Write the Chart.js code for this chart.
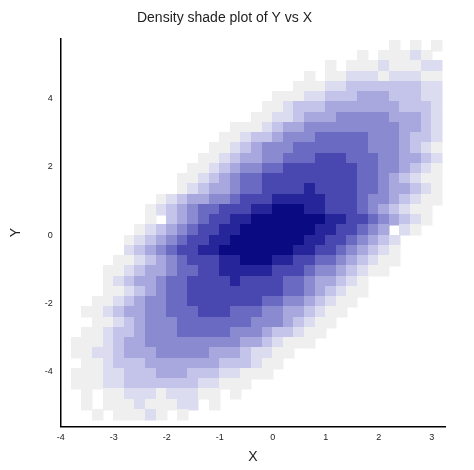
<!DOCTYPE html>
<html><head><meta charset="utf-8">
<script src="https://cdn.jsdelivr.net/npm/chart.js@4"></script>
<style>html,body{margin:0;background:#fff}#w{width:474px;height:470px}</style>
</head><body><div id="w"><canvas id="c"></canvas></div>
<script>
// 2D histogram: cell size and grid origin
const cellW = 0.2, cellH = 0.3, gridX0 = -4, gridYTop = 5.7;
// per row (top to bottom): first column index and density level string (0-9, '.' = empty)
const rowStart = [20,19,18,17,17,16,15,15,14,13,12,12,11,10,10,9,8,8,7,6,5,5,4,3,3,2,1,1,0,-1,-2,-2,-3,-4,-4,-5,-6];
const rowLevels = [
"...........1.1.1...........",
".........1.11121.1.........",
".......1.111211122.1.......",
"......1.11222122211.1......",
".....11122333333322111.....",
"....1112233344433322111....",
"....1123334444444333211....",
"...112234445555544432211...",
"..11123445555555554432111..",
"..11233455566666555433211..",
"..11234555666666655543211..",
".1123445566677766655443211.",
".1123455667777777665543211.",
".1123456677777777766543211.",
".1234456677778777766544321.",
"123445567778888877765543211",
"123456677788999887776543211",
"1.3456778899999998877654321",
"123456778899999998877654.21",
"12345677889999999887765432.",
".23456778899999998877654321",
"112345677788999887766543211",
"112344566778888877765543211",
".1234456677778777766544321.",
".1123456677777777766543211.",
".1123455667777777665543211.",
".1123445566677766655443211.",
"..11234555666666655543211..",
"..11233455566666555433211..",
"..11123445555555554432111..",
"...112234445555544432211...",
"....1123334444444333211....",
"....1112233344433322111....",
".....11122333333322111.....",
"......1.11222122211.1......",
".......1.111211122.1.......",
".........1.11121.1........."
];
const xTicks = [-4,-3,-2,-1,0,1,2,3];
const yTicks = [-4,-2,0,2,4];
const levelColors = ['rgba(0,0,0,0)','#efefef','#dcdcf0','#c4c4ea','#a8a8de','#8a8ad0','#6a6ac2','#4848b0','#26269a','#0a0a82'];

const cells = [];
rowLevels.forEach((s, r) => {
  for (let i = 0; i < s.length; i++) {
    const ch = s[i]; if (ch === '.' || ch === '0') continue;
    const col = rowStart[r] + i; if (col < 0 || col > 35) continue;
    cells.push({x: gridX0 + col * cellW, y: gridYTop - r * cellH, v: +ch});
  }
});

const heat = {
  id: 'heat',
  beforeDatasetsDraw(chart) {
    const {ctx, chartArea: a, scales: {x, y}} = chart;
    ctx.save(); ctx.beginPath(); ctx.rect(a.left, a.top, a.right - a.left, a.bottom - a.top); ctx.clip();
    cells.forEach(c => {
      const x0 = x.getPixelForValue(c.x), x1 = x.getPixelForValue(c.x + cellW);
      const y0 = y.getPixelForValue(c.y), y1 = y.getPixelForValue(c.y - cellH);
      ctx.fillStyle = levelColors[c.v];
      ctx.fillRect(Math.floor(x0), Math.floor(y0), Math.ceil(x1 - x0) + 0.5, Math.ceil(y1 - y0) + 0.5);
    });
    ctx.restore();
  }
};

new Chart(document.getElementById('c'), {
  type: 'scatter',
  data: {datasets: [{data: cells, pointRadius: 0}]},
  plugins: [heat],
  options: {
    responsive: true, maintainAspectRatio: false, animation: false,
    layout: {padding: {left: 4, right: 29, top: 4, bottom: 0}},
    plugins: {legend: {display: false}, tooltip: {enabled: false},
      title: {display: true, text: 'Density shade plot of Y vs X', color: '#222',
        font: {family: 'Liberation Sans', size: 14, weight: 'normal'}, padding: {top: 6, bottom: 12}}},
    scales: {
      x: {min: -4, max: 3.25,
        afterBuildTicks: s => { s.ticks = xTicks.map(v => ({value: v})); },
        grid: {display: false, drawTicks: true, tickLength: 4, color: '#000'},
        border: {display: true, color: '#000', width: 1.5},
        ticks: {color: '#222', font: {family: 'Liberation Sans', size: 9}, maxRotation: 0, padding: 2},
        title: {display: true, text: 'X', color: '#222', font: {family: 'Liberation Sans', size: 14}, padding: {top: 4}}},
      y: {min: -5.6, max: 5.75,
        afterBuildTicks: s => { s.ticks = yTicks.map(v => ({value: v})); },
        grid: {display: false, drawTicks: true, tickLength: 4, color: '#000'},
        border: {display: true, color: '#000', width: 1.5},
        ticks: {color: '#222', font: {family: 'Liberation Sans', size: 9}, padding: 4},
        title: {display: true, text: 'Y', color: '#222', font: {family: 'Liberation Sans', size: 14}, padding: {bottom: 16}}}
    }
  }
});
</script></body></html>
